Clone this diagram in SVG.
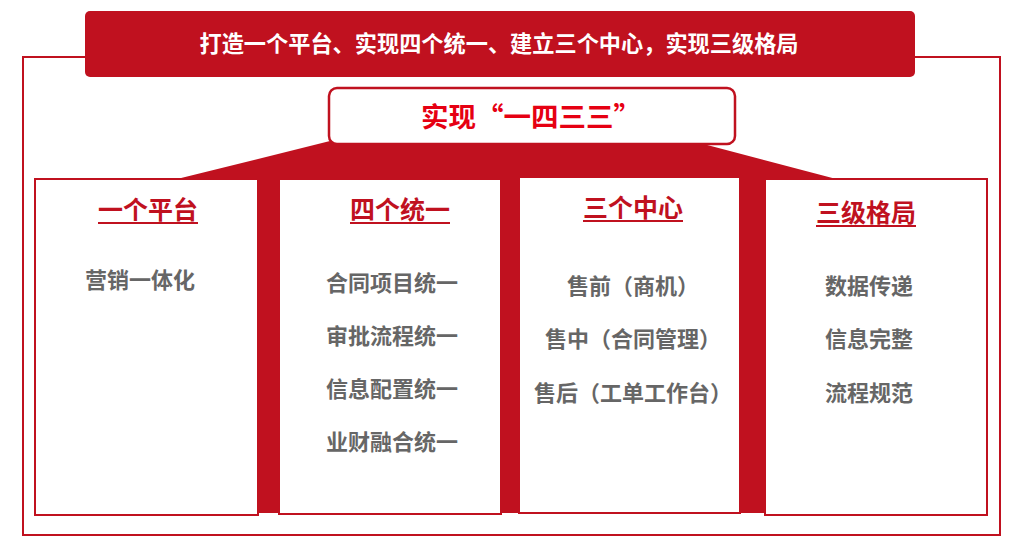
<svg xmlns="http://www.w3.org/2000/svg" width="1022" height="552" viewBox="0 0 1022 552">
<style>
.frame{fill:none;stroke:#C0111F;stroke-width:2}
.col{fill:#fff;stroke:#C0111F;stroke-width:2}
.cjk{font-family:"Noto Sans CJK SC","Noto Sans",sans-serif;font-weight:bold}
.banner{font-size:22.2px;fill:#fff}
.sub{font-size:27.5px;fill:#E60012}
.head{font-size:25px;fill:#C0111F}
.ul{stroke:#C0111F;stroke-width:2}
.item{font-size:22px;fill:#666666;text-anchor:middle}
</style>
<rect width="1022" height="552" fill="#fff"/>
<g id="outer-frame"><rect class="frame" x="23" y="57" width="977" height="478"/></g>
<g id="banner">
<rect x="85" y="11" width="830" height="66" rx="5" fill="#C0111F"/>
<text class="cjk banner" x="499" y="52" text-anchor="middle">打造一个平台、实现四个统一、建立三个中心，实现三级格局</text>
</g>
<g id="connectors">
<polygon points="330,141 692,141 840,180 764,180 764,513 257,513 257,180 173,180" fill="#C0111F"/>
</g>
<g id="center">
<rect x="329" y="88" width="406" height="56" rx="8" fill="#fff" stroke="#C0111F" stroke-width="2.5"/>
<text class="cjk sub" x="421" y="127">实现“一四三三”</text>
</g>
<g id="col1">
<rect class="col" x="35" y="179" width="223" height="336"/>
<text class="cjk head" x="98" y="219">一个平台</text>
<line class="ul" x1="98" y1="223" x2="198" y2="223"/>
<text class="cjk item" x="140" y="288">营销一体化</text>
</g>
<g id="col2">
<rect class="col" x="279" y="179" width="222" height="335"/>
<text class="cjk head" x="350" y="219">四个统一</text>
<line class="ul" x1="350" y1="223" x2="450" y2="223"/>
<text class="cjk item" x="392" y="291">合同项目统一</text>
<text class="cjk item" x="392" y="344">审批流程统一</text>
<text class="cjk item" x="392" y="397">信息配置统一</text>
<text class="cjk item" x="392" y="450">业财融合统一</text>
</g>
<g id="col3">
<rect class="col" x="519" y="177" width="221" height="336"/>
<text class="cjk head" x="583" y="217">三个中心</text>
<line class="ul" x1="583" y1="221" x2="683" y2="221"/>
<text class="cjk item" x="633" y="294">售前（商机）</text>
<text class="cjk item" x="633" y="347">售中（合同管理）</text>
<text class="cjk item" x="633" y="401">售后（工单工作台）</text>
</g>
<g id="col4">
<rect class="col" x="765" y="179" width="222" height="336"/>
<text class="cjk head" x="816" y="222">三级格局</text>
<line class="ul" x1="816" y1="226" x2="916" y2="226"/>
<text class="cjk item" x="869" y="294">数据传递</text>
<text class="cjk item" x="869" y="347">信息完整</text>
<text class="cjk item" x="869" y="401">流程规范</text>
</g>
</svg>
